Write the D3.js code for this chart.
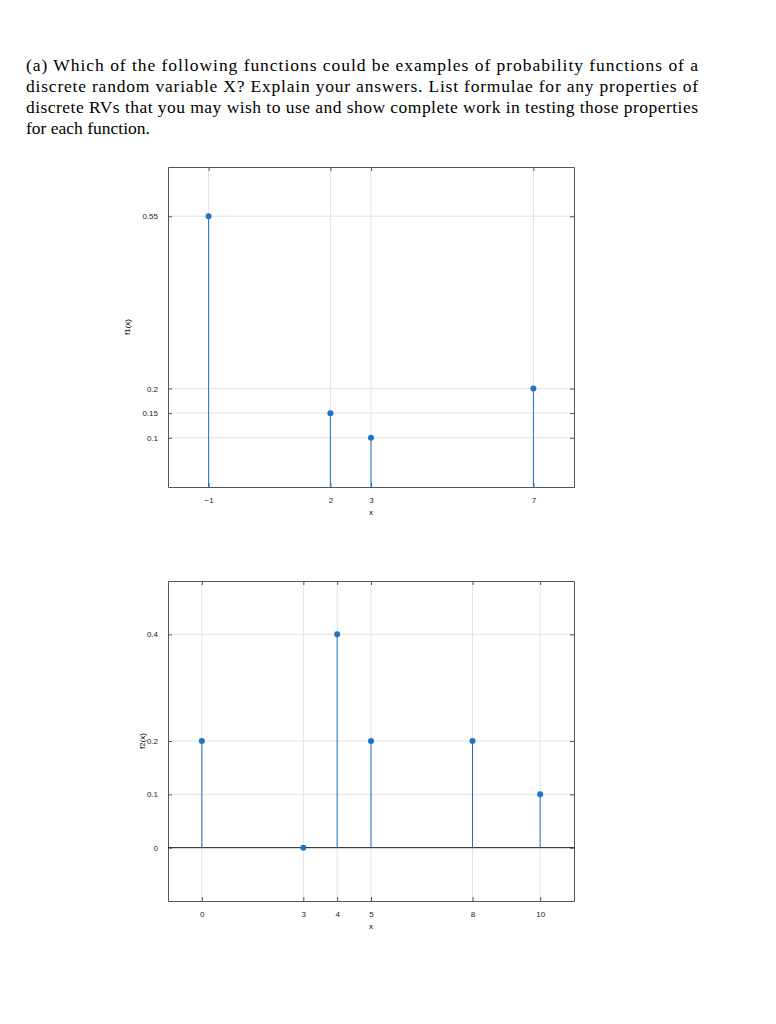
<!DOCTYPE html>
<html><head><meta charset="utf-8">
<script src="https://cdn.jsdelivr.net/npm/d3@7"></script>
<style>body{margin:0;background:#fff}
.serif{font-family:"Liberation Serif","Times New Roman",Tinos,serif}
.sans{font-family:"Liberation Sans",Arial,Arimo,sans-serif}</style></head>
<body><svg width="776" height="1024"></svg>
<script>
const textLines = [
  "(a) Which of the following functions could be examples of probability functions of a",
  "discrete random variable X? Explain your answers. List formulae for any properties of",
  "discrete RVs that you may wish to use and show complete work in testing those properties",
  "for each function."
];
const x1 = [-1, 2, 3, 7];
const f1 = [0.55, 0.15, 0.1, 0.2];
const y1Ticks = [0.1, 0.15, 0.2, 0.55];
const x2 = [0, 3, 4, 5, 8, 10];
const f2 = [0.2, 0, 0.4, 0.2, 0.2, 0.1];
const y2Ticks = [0, 0.1, 0.2, 0.4];

const svg = d3.select("svg");
const blue = "#1f72c4";

svg.selectAll("text.para").data(textLines).join("text")
  .attr("class", "para serif")
  .attr("x", 26).attr("y", (d, i) => 71 + i * 21)
  .attr("font-size", 17.5)
  .attr("textLength", (d, i) => i < 3 ? 672 : null)
  .attr("lengthAdjust", "spacing")
  .text(d => d);

function stemPlot(cfg) {
  const {top, xs, ys, xDomain, yDomain, yTicks, yLabel, yLabelX, baseline} = cfg;
  const left = 168, right = 574, bottom = top + 320;
  const x = d3.scaleLinear().domain(xDomain).range([left, right]);
  const y = d3.scaleLinear().domain(yDomain).range([bottom, top]);
  const g = svg.append("g");
  g.selectAll("line.gx").data(xs).join("line")
    .attr("x1", d => x(d)).attr("x2", d => x(d)).attr("y1", top).attr("y2", bottom)
    .attr("stroke", "#e3e3e3");
  g.selectAll("line.gy").data(yTicks).join("line")
    .attr("y1", d => y(d)).attr("y2", d => y(d)).attr("x1", left).attr("x2", right)
    .attr("stroke", "#e3e3e3");
  const ax = (gen, tr) => g.append("g").attr("transform", tr).call(gen)
    .attr("font-family", null)
    .call(s => s.select(".domain").attr("stroke", "#555"))
    .call(s => s.selectAll(".tick line").attr("stroke", "#555"))
    .call(s => s.selectAll("text").attr("class", "sans").attr("font-size", 8).attr("fill", "#222"));
  ax(d3.axisBottom(x).tickValues(xs).tickSize(-4).tickPadding(10).tickSizeOuter(0), `translate(0,${bottom})`);
  ax(d3.axisTop(x).tickValues(xs).tickSize(-4).tickFormat("").tickSizeOuter(0), `translate(0,${top})`);
  ax(d3.axisLeft(y).tickValues(yTicks).tickSize(-4).tickPadding(10).tickSizeOuter(0).tickFormat(d3.format("")), `translate(${left},0)`);
  ax(d3.axisRight(y).tickValues(yTicks).tickSize(-4).tickFormat("").tickSizeOuter(0), `translate(${right},0)`);
  if (baseline) {
    g.append("line").attr("x1", left).attr("x2", right).attr("y1", y(0)).attr("y2", y(0)).attr("stroke", "#222");
  }
  const data = xs.map((d, i) => ({x: d, y: ys[i]}));
  const base = baseline ? 0 : yDomain[0];
  g.selectAll("line.stem").data(data).join("line")
    .attr("x1", d => x(d.x)).attr("x2", d => x(d.x)).attr("y1", y(base)).attr("y2", d => y(d.y))
    .attr("stroke", blue).attr("stroke-width", 1);
  g.selectAll("circle").data(data).join("circle")
    .attr("cx", d => x(d.x)).attr("cy", d => y(d.y)).attr("r", 3).attr("fill", blue);
  g.append("text").attr("class", "sans").attr("x", 371).attr("y", bottom + 28)
    .attr("text-anchor", "middle").attr("font-size", 8).text("x");
  g.append("text").attr("class", "sans").attr("transform", `translate(${yLabelX},${(top + bottom) / 2}) rotate(-90)`)
    .attr("text-anchor", "middle").attr("font-size", 8).text(yLabel);
}

stemPlot({top: 167, xs: x1, ys: f1, xDomain: [-2, 8], yDomain: [0, 0.65], yTicks: y1Ticks, yLabel: "f1(x)", yLabelX: 130, baseline: false});
stemPlot({top: 581, xs: x2, ys: f2, xDomain: [-1, 11], yDomain: [-0.1, 0.5], yTicks: y2Ticks, yLabel: "f2(x)", yLabelX: 145, baseline: true});
</script></body></html>
